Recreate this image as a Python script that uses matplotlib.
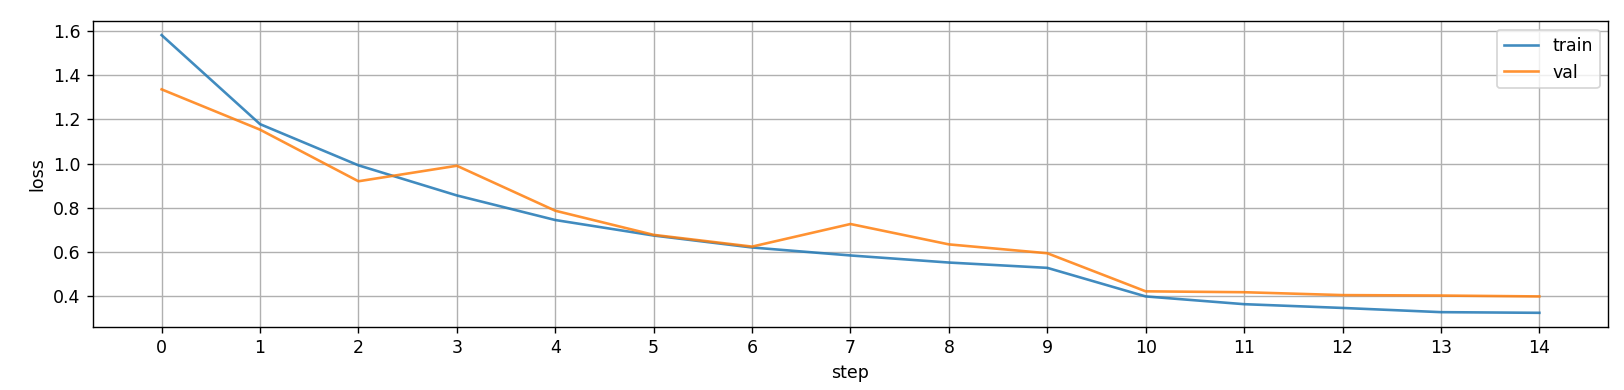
import matplotlib
matplotlib.use("Agg")
import matplotlib.pyplot as plt

# loss per step
steps = list(range(15))
train_loss = [1.580, 1.178, 0.992, 0.856, 0.745, 0.675, 0.621, 0.585, 0.553, 0.529,
              0.400, 0.365, 0.348, 0.329, 0.326]
val_loss = [1.335, 1.153, 0.920, 0.990, 0.787, 0.678, 0.625, 0.727, 0.635, 0.595,
            0.423, 0.419, 0.406, 0.404, 0.400]

fig, ax = plt.subplots(figsize=(1624 / 125, 390 / 125), dpi=125)
fig.subplots_adjust(left=0.0571, right=0.9903, top=0.9456, bottom=0.1623)

ax.plot(steps, train_loss, label="train", alpha=0.85)
ax.plot(steps, val_loss, label="val", alpha=0.85)

ax.set_xlabel("step")
ax.set_ylabel("loss")
ax.set_xticks(steps)
ax.grid(True)
ax.legend(loc="upper right")

fig.savefig("out.png", dpi=125)
